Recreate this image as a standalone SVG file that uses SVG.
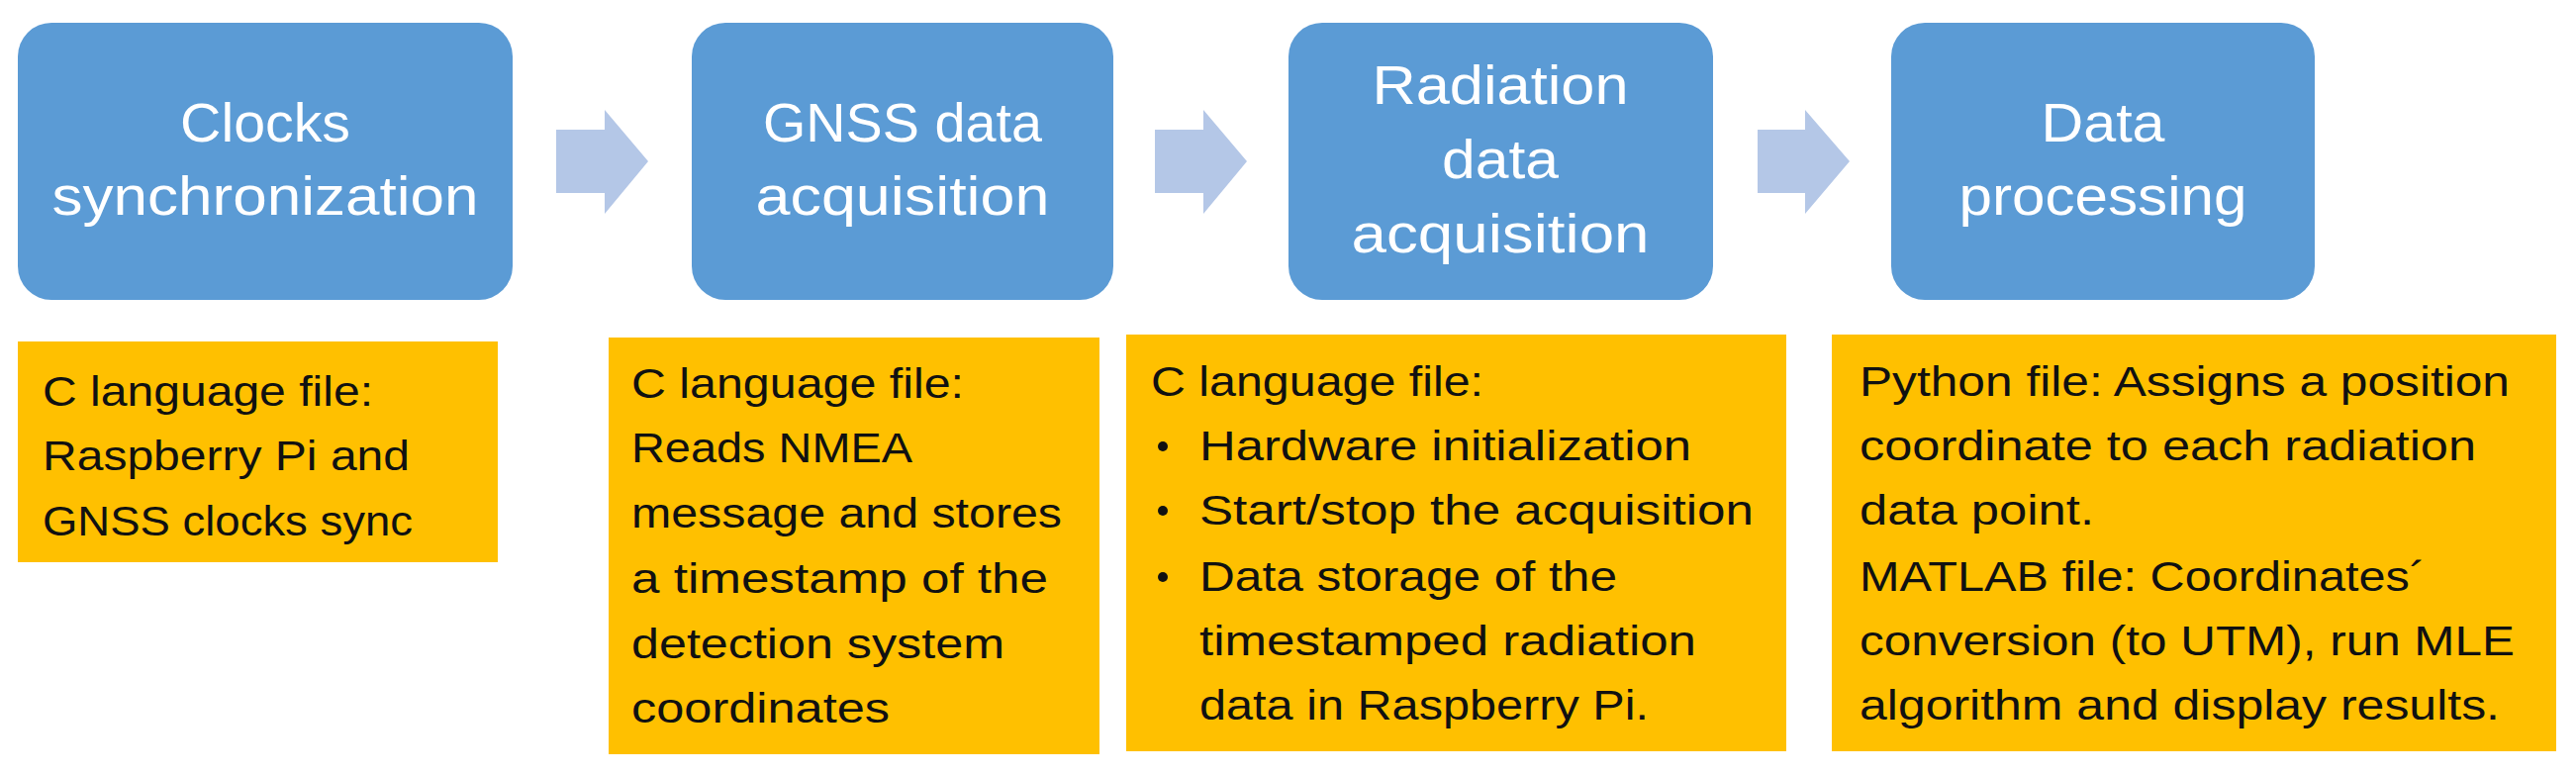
<svg xmlns="http://www.w3.org/2000/svg" width="2603" height="784" viewBox="0 0 2603 784">
<style>
.b{fill:#5B9BD5}
.o{fill:#FFC000}
.a{fill:#B4C7E7}
.t{font-family:"Liberation Sans",Arial,sans-serif;font-size:56px;fill:#fff;text-anchor:middle}
.s{font-family:"Liberation Sans",Arial,sans-serif;font-size:42px;fill:#111}
</style>
<rect width="2603" height="784" fill="#fff"/>
<g id="connectors">
<polygon class="a" points="562,131 611,131 611,111 655,163 611,216 611,195 562,195"/>
<polygon class="a" points="1167,131 1216,131 1216,111 1260,163 1216,216 1216,195 1167,195"/>
<polygon class="a" points="1776,131 1824,131 1824,111 1869,163 1824,216 1824,195 1776,195"/>
</g>
<g id="n1">
<rect class="b" x="18" y="23" width="500" height="280" rx="34"/>
<text class="t" x="268" y="143" textLength="172" lengthAdjust="spacingAndGlyphs">Clocks</text>
<text class="t" x="268" y="217" textLength="431" lengthAdjust="spacingAndGlyphs">synchronization</text>
</g>
<g id="n2">
<rect class="b" x="699" y="23" width="426" height="280" rx="34"/>
<text class="t" x="912" y="143" textLength="282" lengthAdjust="spacingAndGlyphs">GNSS data</text>
<text class="t" x="912" y="217" textLength="297" lengthAdjust="spacingAndGlyphs">acquisition</text>
</g>
<g id="n3">
<rect class="b" x="1302" y="23" width="429" height="280" rx="34"/>
<text class="t" x="1516" y="105" textLength="259" lengthAdjust="spacingAndGlyphs">Radiation</text>
<text class="t" x="1516" y="180" textLength="118" lengthAdjust="spacingAndGlyphs">data</text>
<text class="t" x="1516" y="255" textLength="301" lengthAdjust="spacingAndGlyphs">acquisition</text>
</g>
<g id="n4">
<rect class="b" x="1911" y="23" width="428" height="280" rx="34"/>
<text class="t" x="2125" y="143" textLength="125" lengthAdjust="spacingAndGlyphs">Data</text>
<text class="t" x="2125" y="217" textLength="291" lengthAdjust="spacingAndGlyphs">processing</text>
</g>
<g id="d1">
<rect class="o" x="18" y="345" width="485" height="223"/>
<text class="s" x="43" y="410" textLength="334" lengthAdjust="spacingAndGlyphs">C language file:</text>
<text class="s" x="43" y="475" textLength="371" lengthAdjust="spacingAndGlyphs">Raspberry Pi and</text>
<text class="s" x="43" y="541" textLength="374" lengthAdjust="spacingAndGlyphs">GNSS clocks sync</text>
</g>
<g id="d2">
<rect class="o" x="615" y="341" width="496" height="421"/>
<text class="s" x="638" y="402" textLength="336" lengthAdjust="spacingAndGlyphs">C language file:</text>
<text class="s" x="638" y="467" textLength="284" lengthAdjust="spacingAndGlyphs">Reads NMEA</text>
<text class="s" x="638" y="533" textLength="435" lengthAdjust="spacingAndGlyphs">message and stores</text>
<text class="s" x="638" y="599" textLength="421" lengthAdjust="spacingAndGlyphs">a timestamp of the</text>
<text class="s" x="638" y="665" textLength="377" lengthAdjust="spacingAndGlyphs">detection system</text>
<text class="s" x="638" y="730" textLength="261" lengthAdjust="spacingAndGlyphs">coordinates</text>
</g>
<g id="d3">
<rect class="o" x="1138" y="338" width="667" height="421"/>
<text class="s" x="1163" y="400" textLength="336" lengthAdjust="spacingAndGlyphs">C language file:</text>
<circle cx="1175" cy="451" r="5" fill="#111"/>
<circle cx="1175" cy="516" r="5" fill="#111"/>
<circle cx="1175" cy="583" r="5" fill="#111"/>
<text class="s" x="1212" y="465" textLength="497" lengthAdjust="spacingAndGlyphs">Hardware initialization</text>
<text class="s" x="1212" y="530" textLength="560" lengthAdjust="spacingAndGlyphs">Start/stop the acquisition</text>
<text class="s" x="1212" y="597" textLength="422" lengthAdjust="spacingAndGlyphs">Data storage of the</text>
<text class="s" x="1212" y="662" textLength="502" lengthAdjust="spacingAndGlyphs">timestamped radiation</text>
<text class="s" x="1212" y="727" textLength="454" lengthAdjust="spacingAndGlyphs">data in Raspberry Pi.</text>
</g>
<g id="d4">
<rect class="o" x="1851" y="338" width="732" height="421"/>
<text class="s" x="1879" y="400" textLength="657" lengthAdjust="spacingAndGlyphs">Python file: Assigns a position</text>
<text class="s" x="1879" y="465" textLength="623" lengthAdjust="spacingAndGlyphs">coordinate to each radiation</text>
<text class="s" x="1879" y="530" textLength="237" lengthAdjust="spacingAndGlyphs">data point.</text>
<text class="s" x="1879" y="597" textLength="572" lengthAdjust="spacingAndGlyphs">MATLAB file: Coordinates´</text>
<text class="s" x="1879" y="662" textLength="662" lengthAdjust="spacingAndGlyphs">conversion (to UTM), run MLE</text>
<text class="s" x="1879" y="727" textLength="647" lengthAdjust="spacingAndGlyphs">algorithm and display results.</text>
</g>
</svg>
